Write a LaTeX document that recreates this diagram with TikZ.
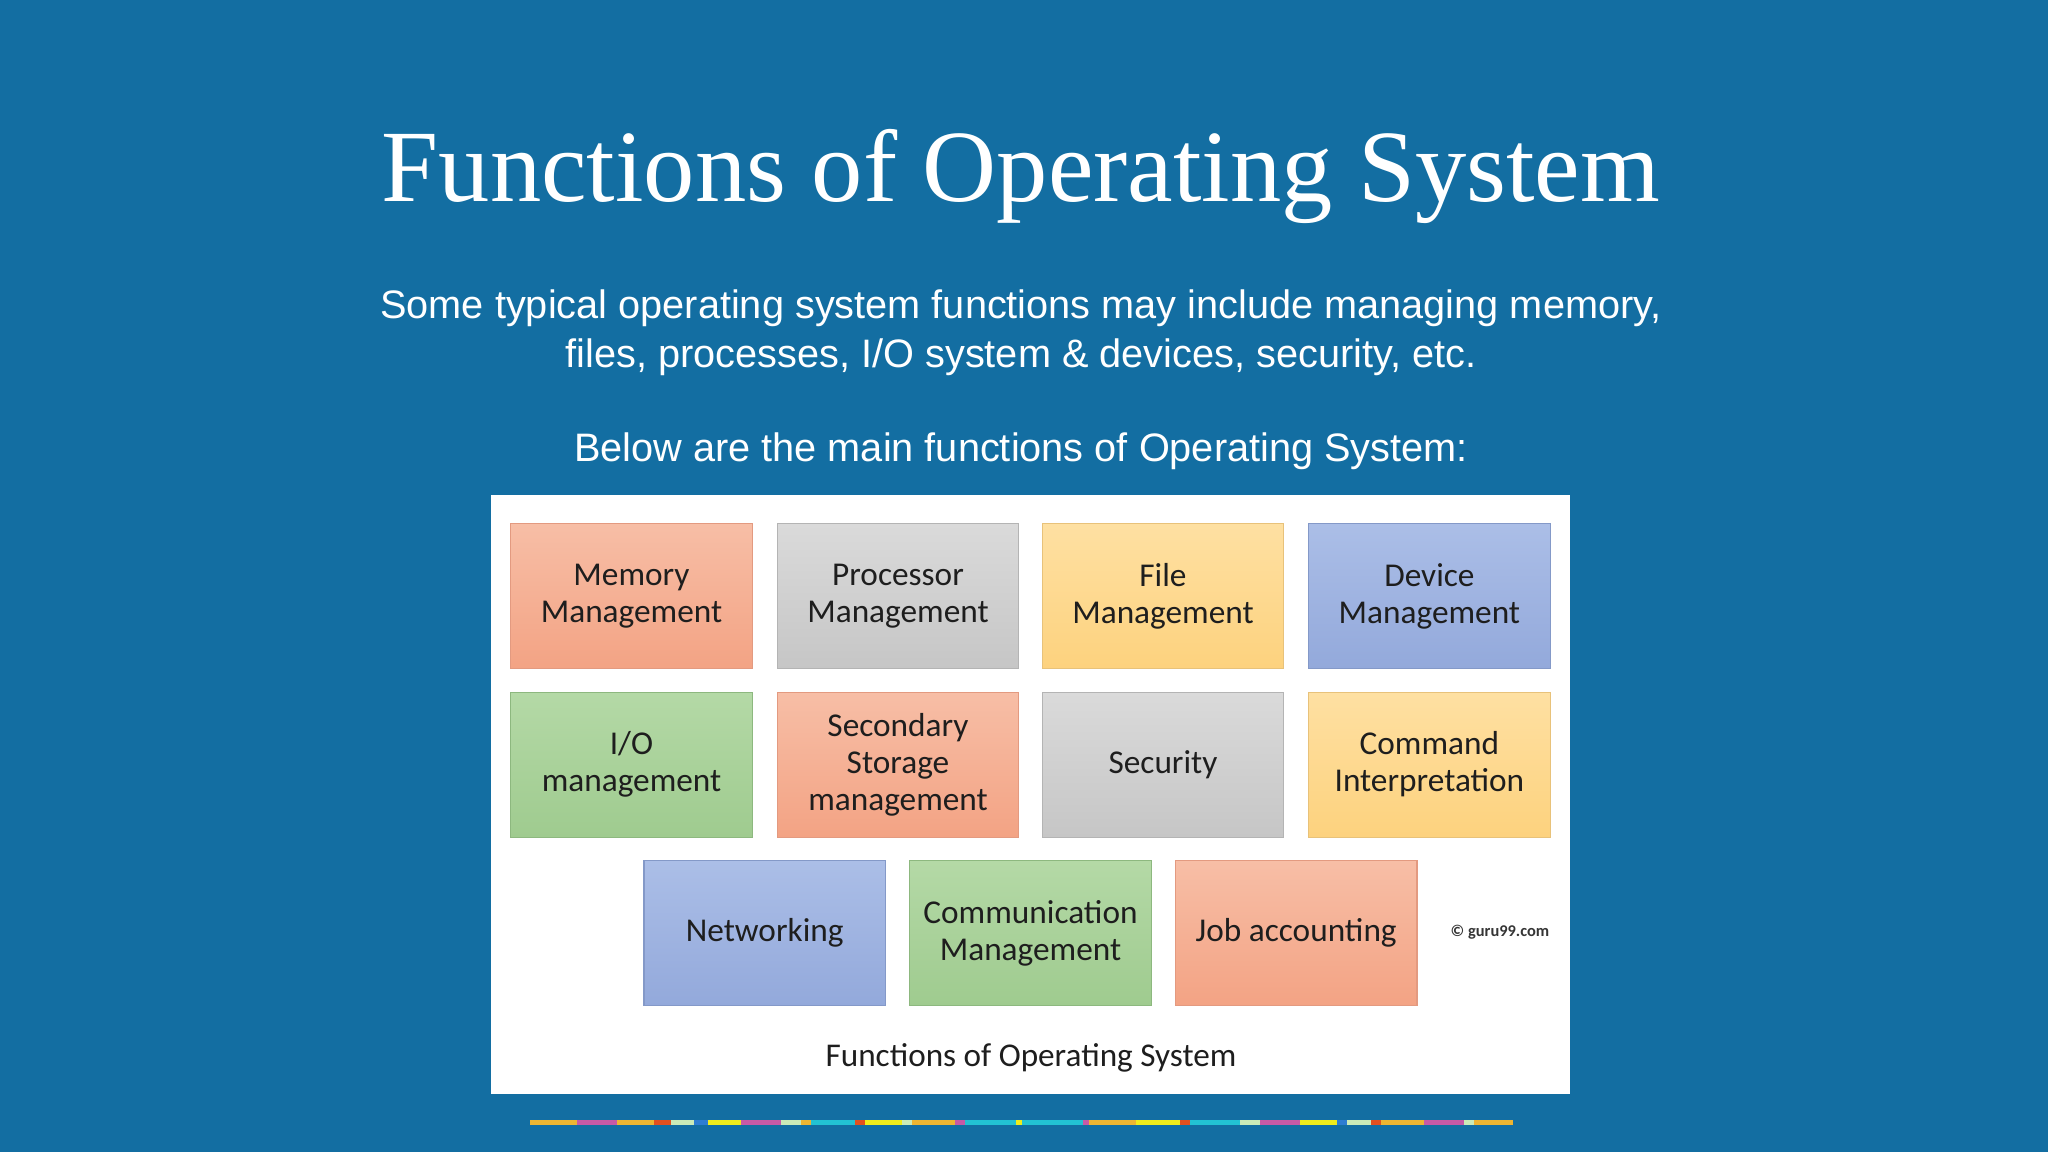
\documentclass[tikz,border=0pt]{standalone}
\usepackage{fontspec}
\setmainfont{Liberation Serif}
\newfontfamily\arialf{Liberation Sans}
\newfontfamily\calf{Carlito}
\definecolor{bgblue}{HTML}{136EA2}
\definecolor{txtdark}{HTML}{1E1E1E}
\definecolor{salT}{HTML}{F7BEA6}\definecolor{salB}{HTML}{F3A384}\definecolor{salD}{HTML}{E39A80}
\definecolor{gryT}{HTML}{DADADA}\definecolor{gryB}{HTML}{C6C6C6}\definecolor{gryD}{HTML}{B4B4B4}
\definecolor{yelT}{HTML}{FEE0A2}\definecolor{yelB}{HTML}{FDD27E}\definecolor{yelD}{HTML}{E8C27A}
\definecolor{bluT}{HTML}{ABBEE7}\definecolor{bluB}{HTML}{93A9DB}\definecolor{bluD}{HTML}{8499C8}
\definecolor{grnT}{HTML}{B4D9A6}\definecolor{grnB}{HTML}{9FCB8F}\definecolor{grnD}{HTML}{8DB87F}
\definecolor{cgold}{HTML}{EDB532}
\definecolor{cmag}{HTML}{C65AA6}
\definecolor{cred}{HTML}{E2501F}
\definecolor{cgreen}{HTML}{CBEBB8}
\definecolor{cblue}{HTML}{2D7DD2}
\definecolor{cyel}{HTML}{F0EC1A}
\definecolor{ccyan}{HTML}{22C2D3}
\tikzset{
  fbox/.style={draw=#1D, line width=1.2pt, top color=#1T, bottom color=#1B,
    minimum width=241.6pt, minimum height=145pt, inner sep=0pt, align=center,
    text=txtdark, font=\calf\fontsize{33.3}{37}\selectfont},
  slidetext/.style={text=white, anchor=base, inner sep=0pt},
}
\begin{document}
\begin{tikzpicture}[x=1pt,y=-1pt]
\fill[bgblue] (0,0) rectangle (2048,1152);
\useasboundingbox (0,0) rectangle (2048,1152);
% title and text
\node[slidetext, font=\fontsize{102.5}{110}\selectfont] (title) at (1021,201) {Functions of Operating System};
\node[slidetext, font=\arialf\fontsize{39.7}{46}\selectfont] (sub1) at (1021,318) {Some typical operating system functions may include managing memory,};
\node[slidetext, font=\arialf\fontsize{39.7}{46}\selectfont] (sub2) at (1021,367) {files, processes, I/O system \& devices, security, etc.};
\node[slidetext, font=\arialf\fontsize{39.7}{46}\selectfont] (sub3) at (1021,461) {Below are the main functions of Operating System:};
% white panel
\fill[white] (491,495) rectangle (1570,1094);
% boxes
\node[fbox=sal] (mem) at (631.5,596.2) {Memory\\Management};
\node[fbox=gry] (proc) at (898,596.2) {Processor\\Management};
\node[fbox=yel] (file) at (1163,596.2) {File\\Management};
\node[fbox=blu] (dev) at (1429.4,596.2) {Device\\Management};
\node[fbox=grn] (io) at (631.5,764.6) {I/O\\management};
\node[fbox=sal] (sec) at (898,764.6) {Secondary\\Storage\\management};
\node[fbox=gry] (secu) at (1163,764.6) {Security};
\node[fbox=yel] (cmd) at (1429.4,764.6) {Command\\Interpretation};
\node[fbox=blu] (net) at (764.7,933.2) {Networking};
\node[fbox=grn] (comm) at (1030.5,933.2) {Communication\\Management};
\node[fbox=sal] (job) at (1296.2,933.2) {Job accounting};
\node[text=txtdark!90, font=\calf\bfseries\fontsize{16.4}{18}\selectfont, inner sep=0pt] (guru) at (1500,932) {\textcopyright\ guru99.com};
\node[text=txtdark, anchor=base, inner sep=0pt, font=\calf\fontsize{33.2}{36}\selectfont] (cap) at (1031,1066.7) {Functions of Operating System};
% coloured line
\foreach \a/\b/\c in {530/577/cgold,577/617/cmag,617/654/cgold,654/671/cred,671/694/cgreen,694/708/cblue,
  708/741/cyel,741/781/cmag,781/801/cgreen,801/811/cgold,811/855/ccyan,855/865/cred,865/902/cyel,902/912/cgreen,
  912/955/cgold,955/965/cmag,965/1016/ccyan,1016/1022/cyel,1022/1083/ccyan,1083/1089/cmag,1089/1136/cgold,
  1136/1180/cyel,1180/1190/cred,1190/1240/ccyan,1240/1260/cgreen,1260/1300/cmag,1300/1337/cyel,1337/1347/cblue,
  1347/1371/cgreen,1371/1381/cred,1381/1424/cgold,1424/1464/cmag,1464/1474/cgreen,1474/1513/cgold}
  { \fill[\c] (\a,1119.5) rectangle (\b,1124.5); }
\end{tikzpicture}
\end{document}
